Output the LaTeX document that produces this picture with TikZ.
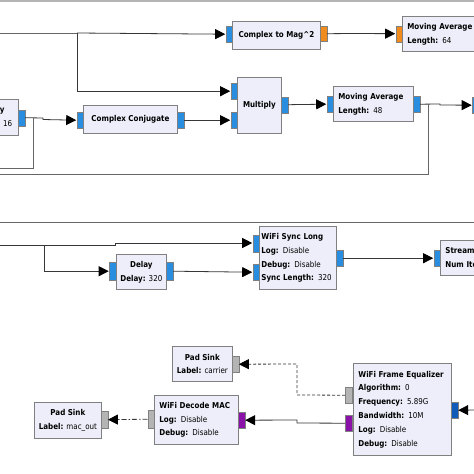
\documentclass[tikz,border=0pt]{standalone}
\usepackage{fontspec}
\setmainfont{DejaVu Sans}[FakeStretch=0.88]
\usetikzlibrary{arrows.meta}
\definecolor{blkfill}{RGB}{238,238,250}
\definecolor{blkdraw}{RGB}{128,128,128}
\definecolor{cblue}{RGB}{42,142,224}
\definecolor{dblue}{RGB}{16,92,184}
\definecolor{corange}{RGB}{240,140,30}
\definecolor{cpurple}{RGB}{138,18,168}
\definecolor{cgray}{RGB}{180,180,180}
\definecolor{wire}{RGB}{55,55,55}
\tikzset{
  blk/.style={draw=blkdraw, fill=blkfill, line width=0.8pt, inner xsep=5pt, inner ysep=0pt,
    anchor=north west, font=\fontsize{8.1}{13.8}\selectfont, align=left},
  blkc/.style={blk, align=center, inner xsep=1pt},
  port/.style={draw=blkdraw, line width=0.4pt, minimum width=6.5pt, minimum height=16pt,
    inner sep=0pt, anchor=north west},
  wireline/.style={draw=wire, line width=0.8pt},
  arr/.style={wireline, -{Triangle[length=10pt,width=10pt,black]}, shorten >=0.3pt},
  msgdash/.style={wireline, dash pattern=on 3pt off 2pt, -{Triangle[length=10pt,width=10pt,black]}},
  msgdashdot/.style={wireline, dash pattern=on 5pt off 2pt on 1.5pt off 2pt, -{Triangle[length=10pt,width=10pt,black]}},
}
\begin{document}
\begin{tikzpicture}[x=1pt,y=-1pt]
\useasboundingbox (0,0) rectangle (474,474);
\clip (0,0) rectangle (474,474);
\fill[white] (0,0) rectangle (474,474);
\fill[cgray] (0,0) rectangle (474,1.8);

% ---------- top section ----------
\node[blkc, minimum width=50pt, minimum height=36pt] (dly16) at (-32,99) {\textbf{Delay}\\\textbf{Delay:} 16};
\node[port, fill=cblue] (dly16o) at (18,109.5) {};

\node[blkc, minimum width=88pt, minimum height=28pt] (cmag) at (232,21) {\textbf{Complex to Mag\textasciicircum2}};
\node[port, fill=cblue] (cmagi) at (225.5,26) {};
\node[port, fill=corange, minimum height=15pt] (cmago) at (320,26) {};

\node[blk, text width=80pt, minimum height=35pt] (mavg64) at (402,16) {\textbf{Moving Average}\\\textbf{Length:} 64};
\node[port, fill=corange] (mavg64i) at (395.5,26) {};

\node[blkc, minimum width=94pt, minimum height=28pt] (cconj) at (83,105) {\textbf{Complex Conjugate}};
\node[port, fill=cblue] (cconji) at (76.5,112) {};
\node[port, fill=cblue] (cconjo) at (177,112) {};

\node[blkc, minimum width=44pt, minimum height=56pt] (mult) at (237,77) {\textbf{Multiply}};
\node[port, fill=cblue] (multi1) at (230.5,83) {};
\node[port, fill=cblue] (multi2) at (230.5,112) {};
\node[port, fill=cblue] (multo) at (281,96.5) {};

\node[blk, text width=70pt, minimum height=35pt] (mavg48) at (333,86) {\textbf{Moving Average}\\\textbf{Length:} 48};
\node[port, fill=cblue] (mavg48i) at (326.5,96) {};
\node[port, fill=cblue] (mavg48o) at (413,96) {};

\node[port, fill=cblue] (rport) at (472,97) {};

\coordinate (inA) at (-5,33);
\coordinate (jA) at (77,33);
\draw[wireline, draw=black!60] (inA) -- (jA);
\draw[arr] (jA) -- (cmagi.west);
\draw[arr] (jA) |- (multi1.west);

\coordinate (jB) at (33,118);
\coordinate (outB) at (-5,168);
\draw[arr] (dly16o.east) -- (43,118) -- (43,119.5) -- (cconji.west);
\draw[wireline, draw=black!60] (jB) |- (outB);
\draw[arr] (cconjo.east) -- (multi2.west);

\draw[arr] (cmago.east) -- (354,33.5) -- (cmago.east -| mavg64i.west);
\draw[arr] (multo.east) -- (302,104.5) -- (mavg48i.west);

\coordinate (jC) at (428,104);
\coordinate (outC) at (-5,174);
\draw[arr] (mavg48o.east) -- (440,104) -- (440,105) -- (rport.west);
\draw[wireline, draw=black!60] (jC) |- (outC);

% long wire
\coordinate (sepL) at (-5,222);
\coordinate (sepR) at (479,222);
\draw[wireline, draw=black!60] (sepL) -- (sepR);

% ---------- middle section ----------
\node[blkc, minimum width=50pt, minimum height=35pt] (dly320) at (116,254) {\textbf{Delay}\\\textbf{Delay:} 320};
\node[port, fill=cblue, minimum height=18pt] (dly320i) at (109,262) {};
\node[port, fill=cblue, minimum height=18pt] (dly320o) at (166,262) {};

\node[blk, text width=73pt, inner xsep=2pt, minimum height=63pt] (sync) at (259,226) {\textbf{WiFi Sync Long}\\\textbf{Log:} Disable\\\textbf{Debug:} Disable\\\textbf{Sync Length:} 320};
\node[port, fill=cblue, minimum height=17pt] (synci1) at (252.5,235) {};
\node[port, fill=cblue] (synci2) at (252.5,264) {};
\node[port, fill=cblue] (synco) at (336,250) {};

\node[blk, text width=70pt, minimum height=35pt] (strm) at (440,240) {\textbf{Stream}\\\textbf{Num Items:}};
\node[port, fill=cblue] (strmi) at (433.5,250) {};

\coordinate (inD) at (-5,245);
\coordinate (jD) at (44,245);
\draw[arr] (inD) -- (115,245) -- (115,243) -- (synci1.west |- 0,243);
\draw[arr] (jD) |- (dly320i.west);
\draw[arr] (dly320o.east) -- (synci2.west);
\draw[arr] (synco.east) -- (strmi.west);

% ---------- bottom section ----------
\node[blkc, minimum width=60pt, minimum height=35pt] (padc) at (172,346) {\textbf{Pad Sink}\\\textbf{Label:} carrier};
\node[port, fill=cgray] (padcp) at (232,356) {};

\node[blk, text width=88pt, minimum height=92pt] (feq) at (353,363) {\textbf{WiFi Frame Equalizer}\\\textbf{Algorithm:} 0\\\textbf{Frequency:} 5.89G\\\textbf{Bandwidth:} 10M\\\textbf{Log:} Disable\\\textbf{Debug:} Disable};
\node[port, fill=cgray] (feqm) at (345,387) {};
\node[port, fill=cpurple] (feqp) at (345,415) {};
\node[port, fill=dblue] (feqi) at (451,402) {};

\node[blk, text width=74pt, minimum height=49pt] (dmac) at (154,395) {\textbf{WiFi Decode MAC}\\\textbf{Log:} Disable\\\textbf{Debug:} Disable};
\node[port, fill=cgray, minimum height=18pt] (dmacm) at (147.5,410) {};
\node[port, fill=cpurple] (dmacp) at (238,412) {};

\node[blkc, minimum width=67pt, minimum height=36pt] (padm) at (34,402) {\textbf{Pad Sink}\\\textbf{Label:} mac\_out};
\node[port, fill=cgray, minimum height=17pt] (padmp) at (101,411) {};

\draw[msgdash] (feqm.west) -- (297,395) -- (297,364) -- (padcp.east);
\draw[arr] (feqp.west) -- (297,423) -- (297,420) -- (dmacp.east);
\draw[msgdashdot] (dmacm.west) -- (padmp.east);
\coordinate (inE) at (479,410);
\draw[arr] (inE) -- (feqi.east);
\end{tikzpicture}
\end{document}
